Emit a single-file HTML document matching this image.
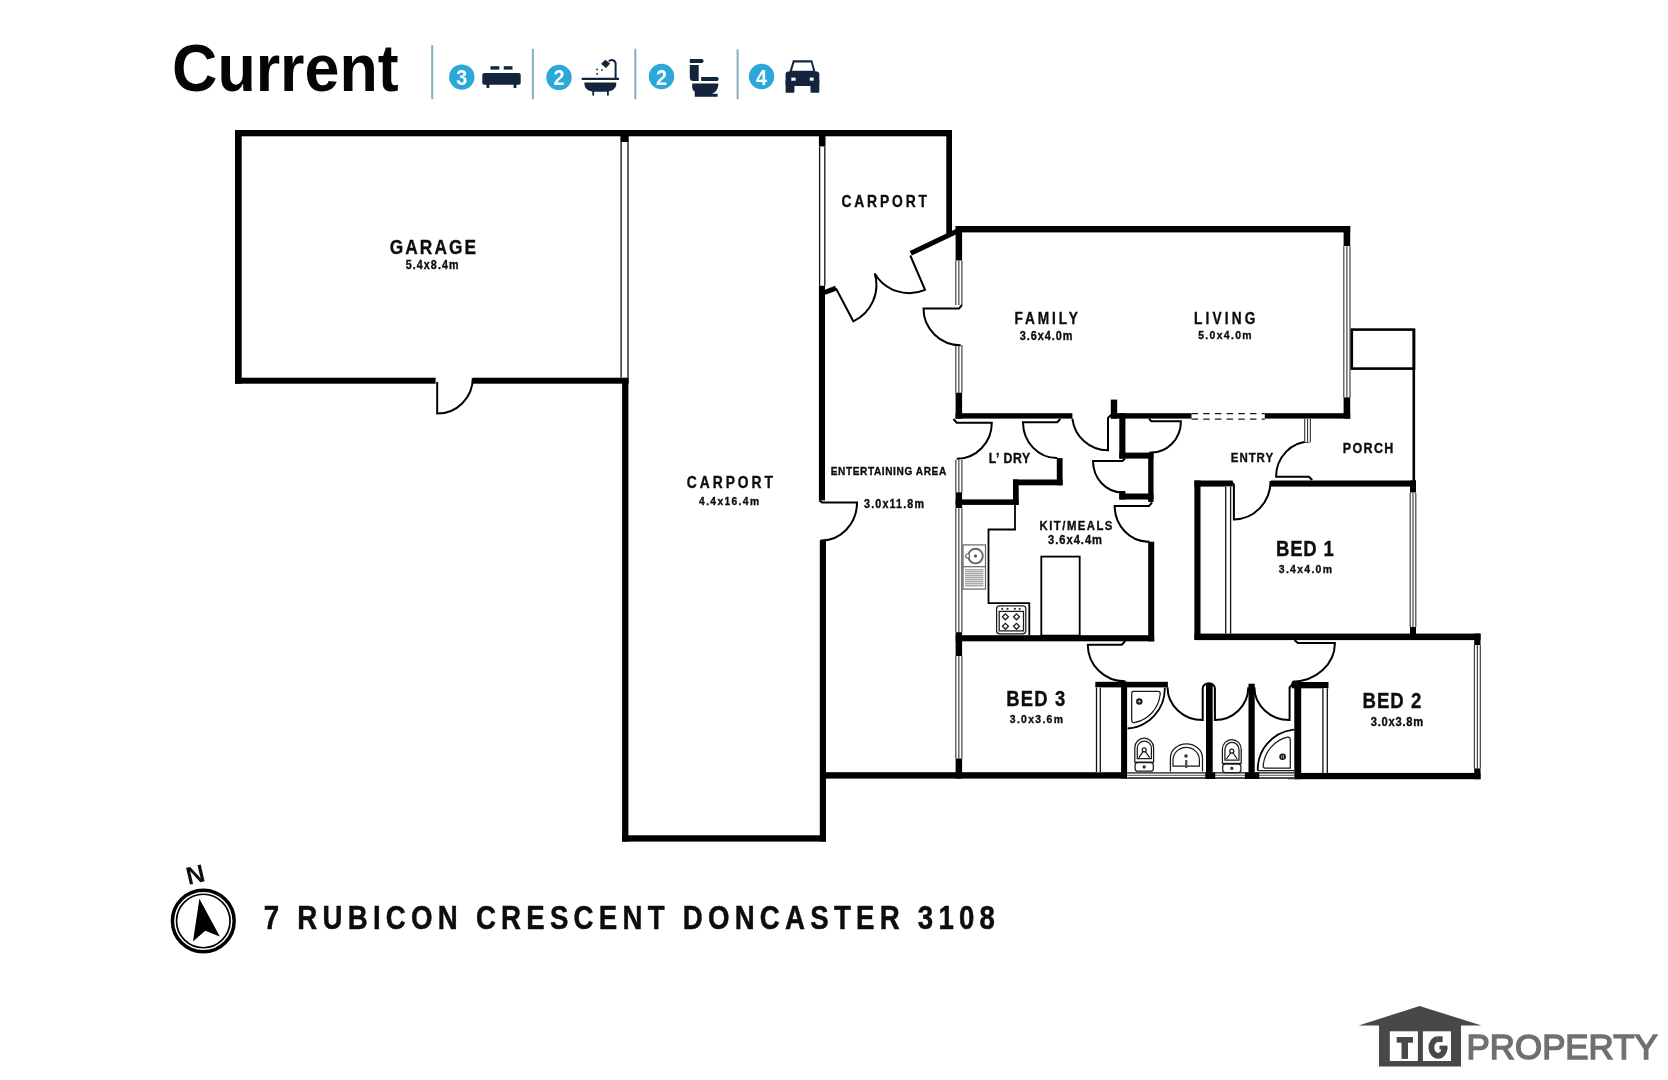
<!DOCTYPE html>
<html><head><meta charset="utf-8">
<style>
html,body{margin:0;padding:0;background:#fff;}
body{width:1668px;height:1080px;overflow:hidden;}
svg{display:block;will-change:transform;}
rect,path,circle,line{shape-rendering:geometricPrecision;}
.wl{stroke:#3a3a3a;stroke-width:1.15;}
.wl2{stroke:#111;stroke-width:1.3;}
.wlm{stroke:#777;stroke-width:1.1;}
.thin{stroke:#000;stroke-width:0.9;}
.door{fill:none;stroke:#000;stroke-width:2;}
.wall5{fill:none;stroke:#000;stroke-width:5;}
.dash{stroke:#1a1a1a;stroke-width:1.2;stroke-dasharray:6.5 5.2;}
.porch{fill:none;stroke:#000;stroke-width:2.6;}
.fix{fill:none;stroke:#000;stroke-width:1.8;}
.fixg{fill:none;stroke:#1a1a1a;stroke-width:1.25;}
.fixg2{stroke:#888;stroke-width:1.05;}
text{font-family:"Liberation Sans",sans-serif;font-weight:bold;fill:#0d0d0d;}
.lbl,.dim{stroke:#0d0d0d;stroke-width:0.35;}
.addr{stroke:#0d0d0d;stroke-width:0.5;}
.title{fill:#050505;}
.logo{font-weight:normal;fill:#707070;stroke:#707070;stroke-width:1.5;}
</style></head>
<body><svg width="1668" height="1080" viewBox="0 0 1668 1080">
<rect x="235.0" y="130.0" width="717.0" height="6.3"/>
<rect x="235.0" y="130.0" width="6.7" height="253.7"/>
<rect x="235.0" y="377.7" width="200.6" height="6.0"/>
<rect x="472.8" y="377.7" width="155.9" height="6.0"/>
<rect x="620.4" y="136.0" width="8.3" height="6.0"/>
<rect x="620.4" y="142.0" width="8.3" height="235.7" fill="#fff"/>
<line class="wl2" x1="621.10" y1="142.0" x2="621.10" y2="377.7"/>
<line class="wl2" x1="628.00" y1="142.0" x2="628.00" y2="377.7"/>
<rect x="622.1" y="377.7" width="6.3" height="463.9"/>
<rect x="622.2" y="835.3" width="203.8" height="6.3"/>
<rect x="818.9" y="136.0" width="6.6" height="10.7"/>
<rect x="818.9" y="146.7" width="6.6" height="139.0" fill="#fff"/>
<line class="wl2" x1="819.60" y1="146.7" x2="819.60" y2="285.7"/>
<line class="wl2" x1="824.80" y1="146.7" x2="824.80" y2="285.7"/>
<rect x="818.9" y="285.7" width="6.1" height="214.7"/>
<rect x="819.8" y="540.4" width="6.2" height="301.1"/>
<rect x="825.0" y="772.2" width="302.2" height="6.4"/>
<rect x="946.3" y="130.0" width="5.7" height="106.0"/>
<path class="wall5" d="M910.8 253.2 L958 230.8"/>
<path class="wall5" d="M824.5 292.5 L836 288.2"/>
<rect x="955.8" y="226.0" width="394.4" height="6.4"/>
<rect x="955.6" y="226.0" width="6.5" height="34.7"/>
<rect x="955.6" y="260.7" width="6.5" height="44.3" fill="#fff"/>
<line class="wl" x1="955.80" y1="260.7" x2="955.80" y2="305.0"/>
<line class="wl" x1="958.85" y1="260.7" x2="958.85" y2="305.0"/>
<line class="wl" x1="961.90" y1="260.7" x2="961.90" y2="305.0"/>
<rect x="955.6" y="345.0" width="6.5" height="47.7" fill="#fff"/>
<line class="wl" x1="955.80" y1="345.0" x2="955.80" y2="392.7"/>
<line class="wl" x1="958.85" y1="345.0" x2="958.85" y2="392.7"/>
<line class="wl" x1="961.90" y1="345.0" x2="961.90" y2="392.7"/>
<rect x="955.6" y="392.7" width="6.5" height="26.0"/>
<rect x="955.6" y="459.8" width="6.5" height="32.5" fill="#fff"/>
<line class="wl" x1="955.80" y1="459.8" x2="955.80" y2="492.3"/>
<line class="wl" x1="958.85" y1="459.8" x2="958.85" y2="492.3"/>
<line class="wl" x1="961.90" y1="459.8" x2="961.90" y2="492.3"/>
<rect x="955.6" y="492.3" width="6.5" height="15.7"/>
<rect x="955.6" y="508.0" width="6.5" height="124.2" fill="#fff"/>
<line class="wl" x1="955.80" y1="508.0" x2="955.80" y2="632.2"/>
<line class="wl" x1="958.85" y1="508.0" x2="958.85" y2="632.2"/>
<line class="wl" x1="961.90" y1="508.0" x2="961.90" y2="632.2"/>
<rect x="955.6" y="632.2" width="6.5" height="23.8"/>
<rect x="955.6" y="656.0" width="6.5" height="102.5" fill="#fff"/>
<line class="wl" x1="955.80" y1="656.0" x2="955.80" y2="758.5"/>
<line class="wl" x1="958.85" y1="656.0" x2="958.85" y2="758.5"/>
<line class="wl" x1="961.90" y1="656.0" x2="961.90" y2="758.5"/>
<rect x="955.6" y="758.5" width="6.5" height="20.1"/>
<rect x="1343.6" y="226.0" width="6.6" height="20.2"/>
<rect x="1343.6" y="246.2" width="6.6" height="151.2" fill="#fff"/>
<line class="wl" x1="1343.80" y1="246.2" x2="1343.80" y2="397.4"/>
<line class="wl" x1="1346.90" y1="246.2" x2="1346.90" y2="397.4"/>
<line class="wl" x1="1350.00" y1="246.2" x2="1350.00" y2="397.4"/>
<rect x="1343.6" y="397.4" width="6.6" height="21.3"/>
<rect x="955.6" y="413.2" width="116.8" height="5.4"/>
<rect x="1110.8" y="399.6" width="6.4" height="19.0"/>
<rect x="1110.8" y="413.2" width="80.7" height="5.4"/>
<rect x="1264.8" y="413.2" width="85.4" height="5.4"/>
<line class="dash" x1="1191.5" y1="413.6" x2="1264.8" y2="413.6"/>
<line class="dash" x1="1191.5" y1="419.1" x2="1264.8" y2="419.1"/>
<rect class="porch" x="1351.8" y="329.6" width="62.2" height="39"/>
<line class="porch" x1="1413.8" y1="329.6" x2="1413.8" y2="482"/>
<rect x="955.6" y="499.4" width="63.1" height="5.5"/>
<rect x="1013.0" y="479.5" width="5.7" height="25.4"/>
<rect x="1013.0" y="479.5" width="49.6" height="5.8"/>
<rect x="1056.8" y="458.1" width="5.8" height="27.2"/>
<rect x="1119.3" y="413.2" width="6.1" height="45.4"/>
<rect x="1119.3" y="452.6" width="34.2" height="6.0"/>
<rect x="1148.2" y="452.6" width="5.3" height="49.4"/>
<rect x="1119.3" y="493.5" width="34.2" height="6.0"/>
<rect x="1119.3" y="491.0" width="6.1" height="8.5"/>
<rect x="1148.2" y="541.7" width="6.0" height="99.7"/>
<rect x="955.6" y="635.2" width="198.6" height="6.1"/>
<rect x="1194.4" y="480.5" width="38.3" height="6.1"/>
<rect x="1270.9" y="480.5" width="145.1" height="6.1"/>
<rect x="1194.4" y="480.5" width="6.1" height="159.1"/>
<rect x="1410.0" y="480.5" width="6.0" height="12.2"/>
<rect x="1410.0" y="492.7" width="6.0" height="134.3" fill="#fff"/>
<line class="wl" x1="1410.20" y1="492.7" x2="1410.20" y2="627.0"/>
<line class="wl" x1="1413.00" y1="492.7" x2="1413.00" y2="627.0"/>
<line class="wl" x1="1415.80" y1="492.7" x2="1415.80" y2="627.0"/>
<rect x="1410.0" y="627.0" width="6.0" height="12.6"/>
<rect x="1225.0" y="486.6" width="6.3" height="147.0" fill="#fff"/>
<line class="wl2" x1="1225.70" y1="486.6" x2="1225.70" y2="633.6"/>
<line class="wl2" x1="1230.60" y1="486.6" x2="1230.60" y2="633.6"/>
<rect x="1194.4" y="633.6" width="286.1" height="6.5"/>
<rect x="1474.2" y="633.6" width="6.3" height="11.4"/>
<rect x="1474.2" y="645.0" width="6.3" height="123.4" fill="#fff"/>
<line class="wl" x1="1474.40" y1="645.0" x2="1474.40" y2="768.4"/>
<line class="wl" x1="1477.35" y1="645.0" x2="1477.35" y2="768.4"/>
<line class="wl" x1="1480.30" y1="645.0" x2="1480.30" y2="768.4"/>
<rect x="1474.2" y="768.4" width="6.3" height="10.8"/>
<rect x="1288.0" y="772.9" width="192.5" height="6.3"/>
<rect x="1095.3" y="681.8" width="72.6" height="5.6"/>
<rect x="1095.8" y="687.4" width="5.2" height="84.8" fill="#fff"/>
<line class="wl2" x1="1096.50" y1="687.4" x2="1096.50" y2="772.2"/>
<line class="wl2" x1="1100.30" y1="687.4" x2="1100.30" y2="772.2"/>
<rect x="1121.1" y="681.6" width="6.0" height="97.0"/>
<rect x="1206.0" y="683.7" width="6.7" height="95.1"/>
<rect x="1248.5" y="683.7" width="6.2" height="95.1"/>
<rect x="1294.3" y="682.0" width="6.9" height="97.2"/>
<rect x="1291.6" y="682.0" width="36.9" height="6.3"/>
<rect x="1322.2" y="688.3" width="5.8" height="84.6" fill="#fff"/>
<line class="wl2" x1="1322.90" y1="688.3" x2="1322.90" y2="772.9"/>
<line class="wl2" x1="1327.30" y1="688.3" x2="1327.30" y2="772.9"/>
<rect x="1127.1" y="772.2" width="78.9" height="6.4" fill="#fff"/>
<line class="wl2" x1="1127.1" y1="772.80" x2="1206.0" y2="772.80"/>
<line class="wlm" x1="1127.1" y1="775.40" x2="1206.0" y2="775.40"/>
<line class="wl2" x1="1127.1" y1="778.00" x2="1206.0" y2="778.00"/>
<rect x="1212.7" y="772.2" width="35.8" height="6.4" fill="#fff"/>
<line class="wl2" x1="1212.7" y1="772.80" x2="1248.5" y2="772.80"/>
<line class="wlm" x1="1212.7" y1="775.40" x2="1248.5" y2="775.40"/>
<line class="wl2" x1="1212.7" y1="778.00" x2="1248.5" y2="778.00"/>
<rect x="1254.7" y="772.2" width="39.6" height="6.4" fill="#fff"/>
<line class="wl2" x1="1254.7" y1="772.80" x2="1294.3" y2="772.80"/>
<line class="wlm" x1="1254.7" y1="775.40" x2="1294.3" y2="775.40"/>
<line class="wl2" x1="1254.7" y1="778.00" x2="1294.3" y2="778.00"/>
<rect x="1205.3" y="772.5" width="9.9" height="6.5"/>
<rect x="1244.9" y="772.5" width="14.3" height="6.5"/>
<path class="door" d="M437.2 382 V413.6 A35.6 35.6 0 0 0 472.8 378"/>
<path class="door" d="M819.3 500.4 L822.2 502.6 H857 A35.5 37.8 0 0 1 820.5 540.4"/>
<path class="door" d="M836 288.5 L853.3 321.3 A40 40 0 0 0 874.7 273.5 A40 40 0 0 0 925 289.8 L910.3 255.5"/>
<path class="door" d="M962 305 L959 308.6 H923.5 A37.2 36.6 0 0 0 960.7 345.2"/>
<path class="door" d="M953.5 419 L956.7 422.7 H991.8 A35.1 36.1 0 0 1 956.7 458.8"/>
<path class="door" d="M1060.4 419 L1057.2 422.2 H1023 A34.2 35.9 0 0 0 1057.2 458.1"/>
<path class="door" d="M1111 415 L1108 418 V450.2 A35.6 35.6 0 0 1 1072.4 418.6"/>
<path class="door" d="M1149 418.9 L1151.4 421.2 H1180.9 A29.5 31 0 0 1 1149.5 452.4"/>
<path class="door" d="M1125 458.6 L1122.5 461 H1093 A29.5 31.5 0 0 0 1122.5 492.5"/>
<path class="door" d="M1152 502.5 L1149 506.1 H1114.7 A34.3 35.6 0 0 0 1149.5 541.7"/>
<path class="door" d="M1125.3 640.8 L1121.8 644.7 H1087.8 A37 36.6 0 0 0 1125.3 681.3"/>
<path class="door" d="M1167.5 687.3 A35.2 32.7 0 0 0 1202.7 720 V688.5 A6.1 5.2 0 0 1 1214.9 688.5 V720 A33.4 32.7 0 0 0 1248.3 687.3"/>
<path class="door" d="M1254.4 687.3 A35.2 32.7 0 0 0 1289.6 720 V687.3 L1292.7 683.9"/>
<path class="door" d="M1294.4 639.9 L1297.9 643 H1334.9 A42.6 38.7 0 0 1 1292.3 681.7"/>
<path class="door" d="M1231 481.5 L1233.9 484.6 V519.4 A36.7 38.3 0 0 0 1270.6 481.1"/>
<path class="door" d="M1310 441.5 A34 35.2 0 0 0 1276.1 476.7 H1308.9 L1312.2 480"/>
<rect x="1304.5" y="419.0" width="6.1" height="23.2" fill="#fff"/>
<line class="wl" x1="1304.70" y1="419.0" x2="1304.70" y2="442.2"/>
<line class="wl" x1="1307.55" y1="419.0" x2="1307.55" y2="442.2"/>
<line class="wl" x1="1310.40" y1="419.0" x2="1310.40" y2="442.2"/>
<path class="fix" d="M1015 505 V529.5 H988.5 V603.2 H1029.3 V635.2"/>
<rect class="fix" x="1041.3" y="556.6" width="38.4" height="79"/>
<rect x="963" y="544.9" width="22.5" height="44.2" fill="none" stroke="#666" stroke-width="1.2"/>
<line x1="963" y1="566.7" x2="985.5" y2="566.7" stroke="#666" stroke-width="1.2"/>
<circle cx="975.5" cy="556.1" r="7.3" fill="none" stroke="#666" stroke-width="1.9"/>
<circle cx="967.6" cy="556" r="2" fill="#fff" stroke="#666" stroke-width="1.1"/>
<circle cx="975.5" cy="556.1" r="1.5" fill="#444"/>
<line class="fixg2" x1="965" y1="569.8" x2="983.5" y2="569.8"/>
<line class="fixg2" x1="965" y1="571.8" x2="983.5" y2="571.8"/>
<line class="fixg2" x1="965" y1="573.8" x2="983.5" y2="573.8"/>
<line class="fixg2" x1="965" y1="575.8" x2="983.5" y2="575.8"/>
<line class="fixg2" x1="965" y1="577.8" x2="983.5" y2="577.8"/>
<line class="fixg2" x1="965" y1="579.8" x2="983.5" y2="579.8"/>
<line class="fixg2" x1="965" y1="581.8" x2="983.5" y2="581.8"/>
<line class="fixg2" x1="965" y1="583.8" x2="983.5" y2="583.8"/>
<line class="fixg2" x1="965" y1="585.8" x2="983.5" y2="585.8"/>
<rect class="fixg" x="996.6" y="605.8" width="29.2" height="28" rx="3"/>
<rect class="fixg" x="999.2" y="611.4" width="24.3" height="19.5"/>
<path class="fixg" d="M1002.4 616.8 L1005.4 613.8 L1008.4 616.8 L1005.4 619.8 Z"/>
<path class="fixg" d="M1002.4 626.3 L1005.4 623.3 L1008.4 626.3 L1005.4 629.3 Z"/>
<path class="fixg" d="M1013.5 616.8 L1016.5 613.8 L1019.5 616.8 L1016.5 619.8 Z"/>
<path class="fixg" d="M1013.5 626.3 L1016.5 623.3 L1019.5 626.3 L1016.5 629.3 Z"/>
<circle cx="1002.2" cy="608.8" r="1.1" fill="#333"/>
<circle cx="1007.5" cy="608.8" r="1.1" fill="#333"/>
<circle cx="1014.9" cy="608.8" r="1.1" fill="#333"/>
<circle cx="1019.7" cy="608.8" r="1.1" fill="#333"/>
<path class="fix" d="M1164.8 687.7 A40 40 0 0 1 1127.6 728.5"/>
<path class="fixg" d="M1133.1 691.3 H1158.1 Q1160.6 691.3 1160.1 694.7 A32 32 0 0 1 1134.1 722.7 Q1131.7 723.2 1131.7 719.7 V693.7 Q1131.7 691.3 1133.1 691.3 Z"/>
<circle cx="1139.3" cy="701.5" r="3.2" fill="#111"/><path d="M1137.5 701.5 H1141.1 M1139.3 699.7 V703.3" stroke="#fff" stroke-width="0.6"/>
<path class="fix" d="M1257.8 770.7 A40 40 0 0 1 1292.3 729.9 L1294.3 729.6"/>
<path class="fixg" d="M1257.8 770.6 H1294.3"/>
<path class="fixg" d="M1290.3 768.2 H1265.3 Q1262.8 768.2 1263.3 765.2 A32 32 0 0 1 1287.3 737.2 Q1290.3 736.7 1290.3 740.2 Z"/>
<circle cx="1282.6" cy="756.7" r="3.3" fill="#111"/><path d="M1281.7 754.9 V758.5 M1283.5 754.9 V758.5" stroke="#fff" stroke-width="0.6"/>
<path class="fixg" d="M1134.8 762.0 V747.6 A9.4 9.4 0 0 1 1153.6 747.6 V762.0 Z"/>
<path class="fixg" d="M1137.3 758.6 V748.1 A7 7 0 0 1 1151.4 748.1 V758.6 Z"/>
<rect class="fixg" x="1135.1" y="762.6" width="18.2" height="8.6" rx="2.5"/>
<circle class="fixg" cx="1144.2" cy="749.8" r="2"/>
<circle class="fixg" cx="1144.2" cy="766.9" r="1"/>
<path class="fixg" d="M1138.8 757.6 L1143.0 751.6 M1149.6 757.6 L1145.4 751.6"/>
<path class="fixg" d="M1222.4 763.4 V749.0 A9.4 9.4 0 0 1 1241.2 749.0 V763.4 Z"/>
<path class="fixg" d="M1224.9 760.0 V749.5 A7 7 0 0 1 1239.0 749.5 V760.0 Z"/>
<rect class="fixg" x="1222.7" y="764.0" width="18.2" height="8.6" rx="2.5"/>
<circle class="fixg" cx="1231.8" cy="751.2" r="2"/>
<circle class="fixg" cx="1231.8" cy="768.3" r="1"/>
<path class="fixg" d="M1226.4 759.0 L1230.6 753.0 M1237.2 759.0 L1233.0 753.0"/>
<path class="fixg" d="M1170.4 771.5 V758 A16 14 0 0 1 1202.5 758 V771.5"/>
<path class="fixg" d="M1173 766 V760 A13.2 12.6 0 0 1 1199.4 760 V766 Z"/>
<circle cx="1186" cy="756" r="1.8" fill="#333"/>
<rect x="1185" y="760" width="2.4" height="8" fill="#555"/>
<text class="lbl" transform="translate(389.80 254.40) scale(0.82 1)" x="0" y="0" font-size="21.1" textLength="105.12" lengthAdjust="spacing">GARAGE</text>
<text class="dim" transform="translate(405.70 268.60) scale(0.9 1)" x="0" y="0" font-size="11.9" textLength="58.67" lengthAdjust="spacing">5.4x8.4m</text>
<text class="lbl" transform="translate(841.40 207.40) scale(0.82 1)" x="0" y="0" font-size="16.9" textLength="104.39" lengthAdjust="spacing">CARPORT</text>
<text class="lbl" transform="translate(1014.60 324.10) scale(0.82 1)" x="0" y="0" font-size="16.7" textLength="77.07" lengthAdjust="spacing">FAMILY</text>
<text class="dim" transform="translate(1019.80 339.70) scale(0.9 1)" x="0" y="0" font-size="12.1" textLength="58.56" lengthAdjust="spacing">3.6x4.0m</text>
<text class="lbl" transform="translate(1194.00 324.10) scale(0.82 1)" x="0" y="0" font-size="16.7" textLength="74.88" lengthAdjust="spacing">LIVING</text>
<text class="dim" transform="translate(1198.20 339.40) scale(0.9 1)" x="0" y="0" font-size="11.6" textLength="59.33" lengthAdjust="spacing">5.0x4.0m</text>
<text class="lbl" transform="translate(686.80 488.40) scale(0.82 1)" x="0" y="0" font-size="16.9" textLength="105.12" lengthAdjust="spacing">CARPORT</text>
<text class="dim" transform="translate(699.10 504.90) scale(0.9 1)" x="0" y="0" font-size="11.4" textLength="66.56" lengthAdjust="spacing">4.4x16.4m</text>
<text class="dim" transform="translate(830.80 475.10) scale(0.87 1)" x="0" y="0" font-size="11.6" textLength="132.64" lengthAdjust="spacing">ENTERTAINING AREA</text>
<text class="dim" transform="translate(864.00 507.60) scale(0.9 1)" x="0" y="0" font-size="11.9" textLength="66.67" lengthAdjust="spacing">3.0x11.8m</text>
<text class="dim" transform="translate(988.70 462.50) scale(0.87 1)" x="0" y="0" font-size="14.1" textLength="47.59" lengthAdjust="spacing">L’ DRY</text>
<text class="dim" transform="translate(1039.60 530.10) scale(0.87 1)" x="0" y="0" font-size="13.0" textLength="83.68" lengthAdjust="spacing">KIT/MEALS</text>
<text class="dim" transform="translate(1048.00 544.30) scale(0.9 1)" x="0" y="0" font-size="12.4" textLength="60.00" lengthAdjust="spacing">3.6x4.4m</text>
<text class="dim" transform="translate(1230.80 461.80) scale(0.87 1)" x="0" y="0" font-size="13.2" textLength="48.62" lengthAdjust="spacing">ENTRY</text>
<text class="dim" transform="translate(1342.80 452.90) scale(0.87 1)" x="0" y="0" font-size="14.4" textLength="58.16" lengthAdjust="spacing">PORCH</text>
<text class="lbl" transform="translate(1276.00 556.30) scale(0.82 1)" x="0" y="0" font-size="22.6" textLength="70.49" lengthAdjust="spacing">BED 1</text>
<text class="dim" transform="translate(1278.80 572.90) scale(0.9 1)" x="0" y="0" font-size="11.6" textLength="59.11" lengthAdjust="spacing">3.4x4.0m</text>
<text class="lbl" transform="translate(1006.20 705.60) scale(0.82 1)" x="0" y="0" font-size="22.5" textLength="71.95" lengthAdjust="spacing">BED 3</text>
<text class="dim" transform="translate(1009.80 723.20) scale(0.9 1)" x="0" y="0" font-size="11.6" textLength="59.11" lengthAdjust="spacing">3.0x3.6m</text>
<text class="lbl" transform="translate(1362.40 707.70) scale(0.82 1)" x="0" y="0" font-size="22.7" textLength="71.95" lengthAdjust="spacing">BED 2</text>
<text class="dim" transform="translate(1370.80 725.90) scale(0.9 1)" x="0" y="0" font-size="12.4" textLength="58.11" lengthAdjust="spacing">3.0x3.8m</text>
<text class="title" transform="translate(172.10 91.00) scale(1 1)" x="0" y="0" font-size="66.5" textLength="226.50" lengthAdjust="spacingAndGlyphs">Current</text>
<rect x="431.2" y="45" width="2" height="54.2" fill="#86aebf"/>
<rect x="531.9" y="48.8" width="2" height="50.4" fill="#86aebf"/>
<rect x="634.3" y="48.8" width="2" height="50.4" fill="#86aebf"/>
<rect x="736.6" y="49.4" width="2" height="49.8" fill="#86aebf"/>
<circle cx="461.8" cy="77.1" r="12.7" fill="#2ba7d9"/>
<text x="0" y="0" transform="translate(461.8 85.1) scale(0.88 1)" text-anchor="middle" font-size="22.5" font-weight="bold" style="fill:#fff" font-family="Liberation Sans, sans-serif">3</text>
<circle cx="559" cy="77.4" r="12.7" fill="#2ba7d9"/>
<text x="0" y="0" transform="translate(559 85.4) scale(0.88 1)" text-anchor="middle" font-size="22.5" font-weight="bold" style="fill:#fff" font-family="Liberation Sans, sans-serif">2</text>
<circle cx="661.5" cy="76.5" r="12.7" fill="#2ba7d9"/>
<text x="0" y="0" transform="translate(661.5 84.5) scale(0.88 1)" text-anchor="middle" font-size="22.5" font-weight="bold" style="fill:#fff" font-family="Liberation Sans, sans-serif">2</text>
<circle cx="761.6" cy="76.5" r="12.7" fill="#2ba7d9"/>
<text x="0" y="0" transform="translate(761.6 84.5) scale(0.88 1)" text-anchor="middle" font-size="22.5" font-weight="bold" style="fill:#fff" font-family="Liberation Sans, sans-serif">4</text>
<g fill="#13253d"><rect x="482.3" y="73" width="38.4" height="11.7" rx="2"/><rect x="486.5" y="83" width="2.8" height="5"/><rect x="513.6" y="83" width="2.8" height="5"/><rect x="490.5" y="66.2" width="8.8" height="3.4"/><rect x="503.7" y="66.2" width="8.8" height="3.4"/></g>
<g fill="#13253d"><rect x="581.5" y="77.7" width="37.7" height="2.4" rx="1.2"/><path d="M584.4 82.5 H616.3 V83.5 C616.3 88.5 612 91.7 606 91.7 H594.5 C588.5 91.7 584.4 88.5 584.4 83.5 Z"/><rect x="592.3" y="90.5" width="1.8" height="5.1"/><rect x="607" y="90.5" width="1.8" height="5.1"/><circle cx="597.1" cy="69.4" r="0.9"/><circle cx="601.9" cy="70" r="0.9"/><circle cx="597.1" cy="74" r="0.9"/></g>
<path d="M615.6 78 V63.5 A3.8 3.8 0 0 0 608.8 61.5" fill="none" stroke="#13253d" stroke-width="2"/>
<path d="M601.6 63.8 L605.3 60.3 L609.6 63.6 L606.1 67.6 Z" fill="#13253d" stroke="#13253d" stroke-width="1" stroke-linejoin="round"/>
<g fill="#13253d"><path d="M689.8 59.1 H701.6 A2 2 0 0 1 701.6 63.1 H689.8 Z"/><path d="M689.8 65.1 H698.7 V80.9 H693.3 A3.5 3.5 0 0 1 689.8 77.4 Z"/><path d="M701.1 76.9 H716.7 A2 2 0 0 1 716.7 80.9 H701.1 Z"/><path d="M692.2 83.6 H718.4 C718.4 88.5 716 92.6 712 93.7 H717.6 V96.7 H694.7 V91.5 Q692.2 90.3 692.2 87.2 Z"/></g>
<rect x="708" y="93" width="10" height="2" fill="#fff" opacity="0"/>
<g fill="#13253d"><path d="M792.9 60.2 H812.2 L815.6 71.9 H789.4 Z"/><rect x="785.6" y="71.6" width="33.7" height="14.4" rx="2.6"/><rect x="785.6" y="80" width="8.8" height="12.7" rx="0.8"/><rect x="810.5" y="80" width="8.8" height="12.7" rx="0.8"/></g>
<path d="M794.4 62.4 H811 L813.1 70.7 H791.9 Z" fill="#fff"/>
<rect x="791.3" y="77.6" width="4.3" height="3.1" fill="#fff"/>
<rect x="809.8" y="77.6" width="3.8" height="3.1" fill="#fff"/>
<circle cx="203.3" cy="921" r="30.85" fill="none" stroke="#000" stroke-width="3.5"/>
<circle cx="203.3" cy="921" r="26.75" fill="none" stroke="#000" stroke-width="1.7"/>
<path d="M199.4 898.7 L219.8 936.6 L205.2 930.8 L193 941.5 Z" fill="#000"/>
<text x="0" y="0" font-size="25" font-weight="bold" font-family="Liberation Sans, sans-serif" transform="translate(188.3 885) rotate(-13)" textLength="18.5" lengthAdjust="spacingAndGlyphs">N</text>
<text class="addr" transform="translate(263.80 928.80) scale(0.82 1)" x="0" y="0" font-size="33.7" textLength="891.71" lengthAdjust="spacing">7 RUBICON CRESCENT DONCASTER 3108</text>
<path d="M1358.6 1025.5 L1419.6 1006 L1481.6 1025.5 Z" fill="#484848"/>
<rect x="1379" y="1025" width="82" height="41.5" fill="#484848"/>
<rect x="1389.8" y="1031.3" width="28.1" height="29.7" fill="#fff"/>
<rect x="1422.9" y="1031.3" width="28.1" height="29.7" fill="#fff"/>
<rect x="1396.7" y="1037" width="16.3" height="5.7" fill="#484848"/>
<rect x="1401.5" y="1037" width="6.5" height="21.9" fill="#484848"/>
<path d="M1437.8 1039.2 A6.6 8.3 0 1 0 1444.6 1047.5" fill="none" stroke="#484848" stroke-width="5.8"/>
<rect x="1437.5" y="1036.3" width="5.1" height="5.8" fill="#484848"/>
<rect x="1439.5" y="1045.6" width="7.9" height="4" fill="#484848"/>
<text class="logo" transform="translate(1466.60 1058.50) scale(1 1)" x="0" y="0" font-size="35.6" textLength="191.10" lengthAdjust="spacingAndGlyphs">PROPERTY</text>
</svg></body></html>
